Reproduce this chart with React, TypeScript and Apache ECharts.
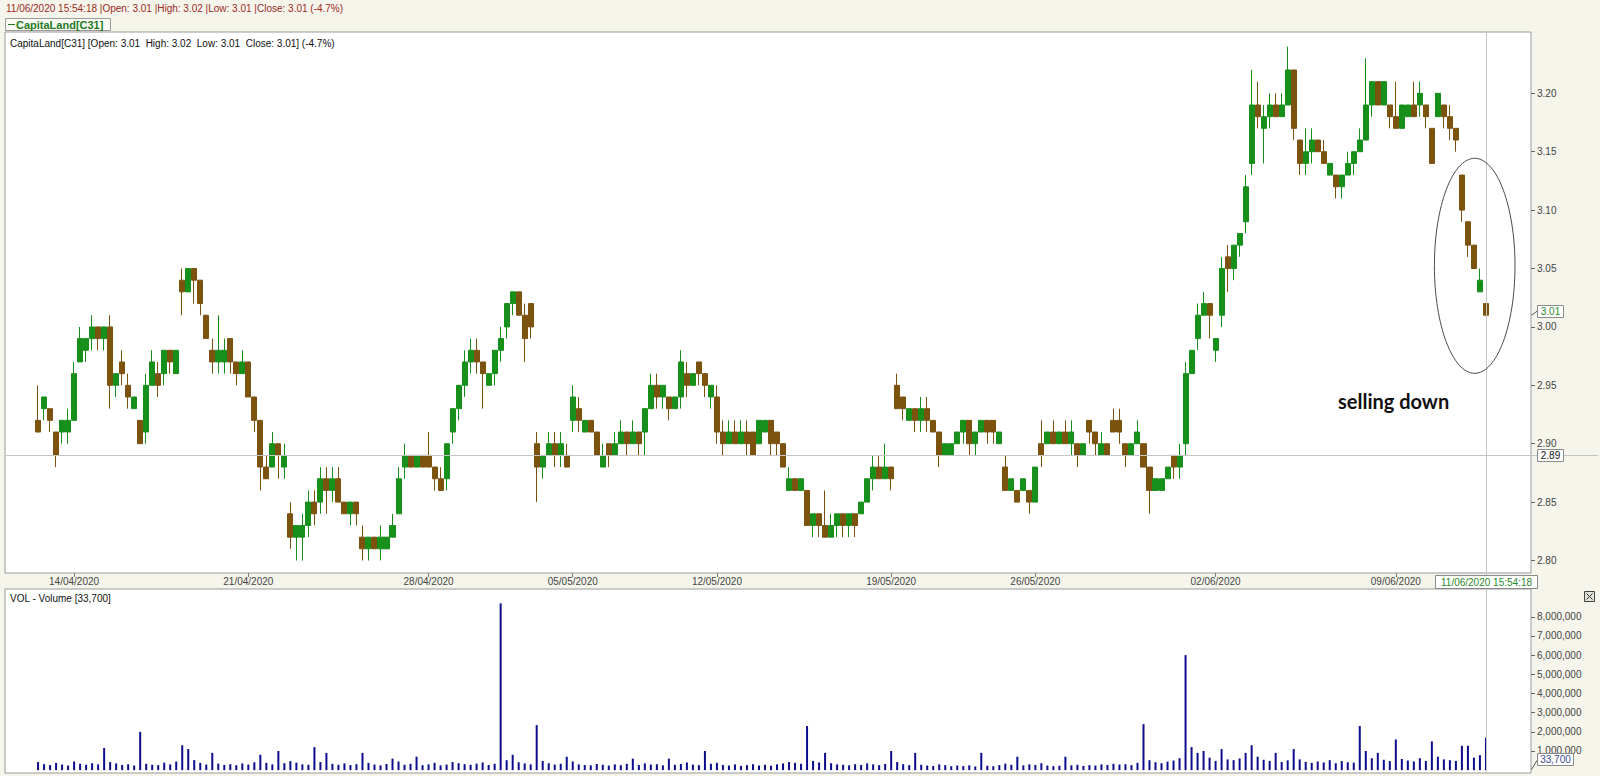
import React, { useEffect, useRef } from 'react';
import * as echarts from 'echarts';

// ---- Candles (intraday bars, left to right) ----
const openPrices = [
  2.92,2.93,2.93,2.91,2.91,2.91,2.92,2.97,2.98,2.99,
  3.00,2.99,3.00,2.95,2.97,2.95,2.93,2.92,2.91,2.95,
  2.96,2.96,2.98,2.96,3.04,3.03,3.05,3.04,3.01,2.98,
  2.97,2.97,2.99,2.97,2.96,2.97,2.94,2.92,2.88,2.88,
  2.90,2.88,2.84,2.82,2.82,2.83,2.85,2.85,2.87,2.86,
  2.87,2.85,2.84,2.85,2.82,2.81,2.82,2.81,2.81,2.82,
  2.84,2.88,2.89,2.88,2.89,2.89,2.88,2.87,2.87,2.91,
  2.93,2.95,2.97,2.98,2.97,2.95,2.96,2.98,3.00,3.02,
  3.03,3.01,3.02,2.90,2.88,2.89,2.90,2.89,2.89,2.92,
  2.93,2.91,2.92,2.91,2.88,2.90,2.89,2.90,2.91,2.90,
  2.91,2.91,2.93,2.95,2.94,2.94,2.93,2.94,2.96,2.95,
  2.97,2.96,2.94,2.94,2.91,2.90,2.91,2.90,2.91,2.91,
  2.90,2.91,2.92,2.91,2.90,2.86,2.87,2.86,2.86,2.83,
  2.84,2.83,2.82,2.83,2.84,2.83,2.84,2.84,2.85,2.87,
  2.88,2.87,2.88,2.95,2.94,2.92,2.93,2.92,2.93,2.92,
  2.91,2.89,2.89,2.90,2.91,2.92,2.90,2.91,2.92,2.92,
  2.90,2.88,2.86,2.86,2.86,2.86,2.85,2.90,2.90,2.91,
  2.90,2.91,2.90,2.90,2.89,2.92,2.91,2.89,2.90,2.92,
  2.92,2.90,2.89,2.90,2.90,2.88,2.86,2.86,2.87,2.89,
  2.88,2.90,2.96,2.99,3.01,3.02,2.98,3.01,3.06,3.05,
  3.07,3.09,3.14,3.19,3.17,3.18,3.19,3.18,3.19,3.22,
  3.16,3.14,3.15,3.16,3.15,3.13,3.13,3.12,3.13,3.14,
  3.15,3.16,3.19,3.21,3.19,3.19,3.18,3.17,3.18,3.19,
  3.19,3.19,3.17,3.18,3.19,3.18,3.17,3.13,3.09,3.07,
  3.03,3.02,
];
const closePrices = [
  2.91,2.94,2.92,2.89,2.92,2.92,2.96,2.99,2.99,3.00,
  2.99,3.00,2.95,2.96,2.96,2.94,2.94,2.90,2.95,2.97,
  2.95,2.98,2.97,2.98,3.03,3.05,3.04,3.02,2.99,2.97,
  2.98,2.98,2.97,2.96,2.97,2.94,2.92,2.88,2.87,2.90,
  2.89,2.89,2.82,2.83,2.83,2.85,2.84,2.87,2.86,2.87,
  2.85,2.84,2.85,2.84,2.81,2.82,2.81,2.82,2.82,2.83,
  2.87,2.89,2.88,2.89,2.88,2.88,2.87,2.86,2.90,2.93,
  2.95,2.97,2.98,2.97,2.96,2.96,2.98,2.99,3.02,3.03,
  3.01,2.99,3.00,2.88,2.89,2.90,2.89,2.90,2.88,2.94,
  2.92,2.92,2.91,2.89,2.89,2.89,2.90,2.91,2.90,2.91,
  2.90,2.93,2.95,2.94,2.95,2.93,2.94,2.97,2.95,2.96,
  2.96,2.95,2.95,2.91,2.90,2.91,2.90,2.91,2.90,2.89,
  2.92,2.92,2.90,2.90,2.88,2.87,2.86,2.87,2.83,2.84,
  2.83,2.82,2.83,2.84,2.83,2.84,2.83,2.85,2.87,2.88,
  2.87,2.88,2.87,2.93,2.93,2.93,2.92,2.93,2.92,2.91,
  2.89,2.90,2.90,2.91,2.92,2.90,2.91,2.92,2.91,2.91,
  2.91,2.86,2.87,2.85,2.87,2.85,2.88,2.89,2.91,2.90,
  2.91,2.90,2.91,2.89,2.90,2.91,2.90,2.90,2.89,2.91,
  2.91,2.89,2.90,2.91,2.88,2.86,2.87,2.87,2.88,2.88,
  2.89,2.96,2.98,3.01,3.02,3.01,2.99,3.05,3.05,3.07,
  3.08,3.12,3.19,3.18,3.18,3.19,3.18,3.19,3.22,3.17,
  3.14,3.15,3.16,3.15,3.14,3.14,3.12,3.13,3.14,3.15,
  3.16,3.19,3.21,3.19,3.21,3.18,3.17,3.19,3.19,3.18,
  3.20,3.18,3.14,3.20,3.18,3.17,3.16,3.10,3.07,3.05,
  3.04,3.01,
];
const lowPrices = [
  2.91,2.92,2.91,2.88,2.90,2.90,2.92,2.97,2.97,2.98,
  2.98,2.98,2.93,2.94,2.95,2.93,2.93,2.90,2.90,2.95,
  2.94,2.95,2.96,2.96,3.01,3.03,3.02,3.01,2.99,2.96,
  2.96,2.96,2.96,2.95,2.96,2.94,2.91,2.86,2.87,2.88,
  2.87,2.87,2.81,2.80,2.80,2.82,2.83,2.84,2.84,2.85,
  2.85,2.84,2.83,2.83,2.80,2.80,2.81,2.80,2.81,2.82,
  2.84,2.87,2.88,2.88,2.88,2.88,2.86,2.86,2.86,2.90,
  2.92,2.94,2.96,2.96,2.93,2.95,2.95,2.97,2.99,3.01,
  3.01,2.97,2.99,2.85,2.87,2.89,2.88,2.88,2.88,2.91,
  2.91,2.91,2.91,2.89,2.88,2.88,2.89,2.90,2.89,2.90,
  2.89,2.89,2.93,2.93,2.93,2.92,2.93,2.93,2.94,2.95,
  2.95,2.94,2.93,2.90,2.89,2.90,2.90,2.90,2.89,2.89,
  2.90,2.91,2.89,2.89,2.88,2.86,2.86,2.86,2.83,2.82,
  2.82,2.82,2.82,2.82,2.82,2.82,2.82,2.84,2.85,2.86,
  2.87,2.87,2.86,2.93,2.92,2.92,2.91,2.91,2.91,2.91,
  2.88,2.89,2.89,2.90,2.90,2.89,2.89,2.91,2.90,2.90,
  2.90,2.86,2.86,2.85,2.86,2.84,2.85,2.88,2.90,2.90,
  2.90,2.90,2.89,2.88,2.89,2.90,2.89,2.89,2.89,2.91,
  2.90,2.88,2.89,2.90,2.88,2.84,2.86,2.86,2.87,2.87,
  2.87,2.89,2.96,2.98,3.01,2.99,2.97,3.00,3.03,3.04,
  3.06,3.08,3.13,3.17,3.14,3.17,3.18,3.18,3.19,3.16,
  3.13,3.13,3.14,3.15,3.14,3.13,3.11,3.11,3.13,3.13,
  3.15,3.16,3.18,3.19,3.19,3.17,3.17,3.17,3.18,3.18,
  3.18,3.17,3.14,3.18,3.17,3.16,3.15,3.09,3.06,3.05,
  3.03,3.01,
];
const highPrices = [
  2.95,2.94,2.93,2.91,2.92,2.93,2.97,3.00,2.99,3.01,
  3.00,3.00,3.01,2.96,2.98,2.96,2.94,2.92,2.96,2.98,
  2.97,2.98,2.98,2.98,3.05,3.05,3.05,3.04,3.01,2.99,
  3.01,2.99,2.99,2.97,2.98,2.97,2.94,2.92,2.89,2.91,
  2.90,2.90,2.85,2.83,2.84,2.86,2.86,2.88,2.88,2.88,
  2.88,2.85,2.85,2.85,2.83,2.82,2.82,2.83,2.82,2.84,
  2.88,2.90,2.89,2.89,2.89,2.91,2.88,2.88,2.90,2.93,
  2.95,2.98,2.99,2.99,2.97,2.96,2.98,3.00,3.02,3.03,
  3.03,3.02,3.02,2.91,2.89,2.91,2.91,2.91,2.90,2.95,
  2.94,2.92,2.92,2.91,2.90,2.90,2.91,2.92,2.91,2.92,
  2.91,2.93,2.96,2.96,2.95,2.94,2.94,2.98,2.97,2.96,
  2.97,2.96,2.95,2.95,2.92,2.92,2.92,2.92,2.92,2.91,
  2.92,2.92,2.92,2.91,2.90,2.88,2.87,2.87,2.86,2.84,
  2.84,2.86,2.84,2.84,2.84,2.84,2.84,2.85,2.87,2.89,
  2.89,2.90,2.88,2.96,2.94,2.93,2.93,2.94,2.94,2.92,
  2.91,2.90,2.90,2.91,2.92,2.92,2.91,2.92,2.92,2.92,
  2.91,2.89,2.87,2.86,2.87,2.86,2.88,2.92,2.91,2.92,
  2.91,2.92,2.92,2.90,2.90,2.92,2.91,2.91,2.90,2.93,
  2.93,2.90,2.90,2.92,2.90,2.88,2.87,2.87,2.88,2.89,
  2.90,2.97,2.98,3.02,3.03,3.02,2.99,3.06,3.07,3.07,
  3.08,3.13,3.22,3.21,3.19,3.20,3.20,3.20,3.24,3.22,
  3.16,3.17,3.17,3.16,3.16,3.14,3.13,3.13,3.15,3.15,
  3.17,3.23,3.21,3.21,3.21,3.19,3.21,3.19,3.19,3.21,
  3.21,3.19,3.17,3.20,3.19,3.19,3.17,3.13,3.09,3.07,
  3.05,3.02,
];
const volumes = [
  420000,310000,260000,380000,290000,240000,450000,330000,280000,360000,
  300000,1150000,420000,350000,270000,310000,240000,2000000,330000,280000,
  260000,390000,300000,450000,1300000,1100000,520000,380000,290000,900000,
  340000,270000,310000,260000,350000,290000,410000,800000,380000,300000,
  1000000,360000,470000,390000,300000,280000,1200000,420000,900000,330000,
  280000,350000,260000,310000,900000,380000,290000,250000,320000,600000,
  450000,280000,330000,700000,260000,300000,380000,250000,290000,420000,
  360000,310000,280000,340000,400000,270000,330000,8700000,520000,800000,
  410000,350000,300000,2350000,480000,360000,290000,330000,700000,450000,
  300000,270000,250000,320000,280000,240000,300000,260000,330000,600000,
  270000,350000,290000,310000,250000,600000,280000,320000,400000,290000,
  260000,1000000,330000,380000,270000,240000,300000,220000,260000,310000,
  240000,280000,230000,300000,350000,420000,380000,330000,2300000,480000,
  400000,900000,360000,300000,280000,250000,310000,270000,350000,300000,
  260000,320000,1000000,420000,310000,260000,900000,280000,240000,220000,
  300000,260000,200000,240000,210000,250000,190000,900000,230000,200000,
  260000,340000,280000,700000,250000,300000,270000,360000,240000,210000,
  230000,700000,250000,280000,220000,260000,240000,300000,270000,330000,
  290000,310000,260000,380000,2400000,520000,410000,360000,440000,500000,
  620000,6000000,1200000,900000,1000000,650000,480000,1100000,560000,520000,
  610000,900000,1300000,700000,540000,480000,900000,420000,510000,1100000,
  560000,430000,380000,450000,400000,520000,360000,470000,410000,390000,
  2300000,1000000,620000,900000,540000,470000,1600000,580000,500000,450000,
  620000,480000,1500000,700000,560000,520000,480000,1270000,1270000,650000,
  780000,1690000,
];

// ---- Axis ticks ----
const dateTickLabels = ['14/04/2020', '21/04/2020', '28/04/2020', '05/05/2020', '12/05/2020', '19/05/2020', '26/05/2020', '02/06/2020', '09/06/2020'];
const dateTickBars = [6, 35, 65, 89, 113, 142, 166, 196, 226];
const priceTicks = [2.8, 2.85, 2.9, 2.95, 3.0, 3.05, 3.1, 3.15, 3.2];
const volumeTicks = [1000000, 2000000, 3000000, 4000000, 5000000, 6000000, 7000000, 8000000];

// ---- Texts ----
const headerText = '11/06/2020 15:54:18 |Open: 3.01 |High: 3.02 |Low: 3.01 |Close: 3.01 (-4.7%)';
const legendName = 'CapitaLand[C31]';
const panelTitle = 'CapitaLand[C31] [Open: 3.01\u00a0\u00a0High: 3.02\u00a0\u00a0Low: 3.01\u00a0\u00a0Close: 3.01] (-4.7%)';
const volumeTitle = 'VOL - Volume [33,700]';
const cursorTime = '11/06/2020 15:54:18';
const cursorPrice = 2.89;
const lastPrice = 3.01;
const lastTickVolume = 33700;
const annotationText = 'selling down';

const FONT = '"Liberation Sans", Arial, Helvetica, sans-serif';
const BG = '#f6f5ec';
const UP = '#17901b';
const DOWN = '#7c520f';
const VOL = '#0c0c8c';

const LEAD = 5;
const TRAIL = 7;

export default function App() {
  const ref = useRef<HTMLDivElement>(null);

  useEffect(() => {
    document.body.style.margin = '0';
    const el = ref.current!;
    const chart = echarts.init(el, null, { renderer: 'svg' });

    const n = openPrices.length;
    const total = LEAD + n + TRAIL;
    const categories: string[] = [];
    for (let k = 0; k < total; k++) {
      const t = dateTickBars.indexOf(k - LEAD);
      categories.push(t >= 0 ? dateTickLabels[t] : 'b' + k);
    }
    const candleData = openPrices.map((o, i) => [LEAD + i, o, closePrices[i], lowPrices[i], highPrices[i]]);
    const volumeData = volumes.map((v, i) => [LEAD + i, v]);
    const isDate = (v: any) => typeof v === 'string' && v.indexOf('/') >= 0;

    const option: any = {
      animation: false,
      backgroundColor: BG,
      textStyle: { fontFamily: FONT },
      grid: [
        { left: 5, top: 32, width: 1526, height: 541, show: true, backgroundColor: '#ffffff', borderColor: '#9a9a9a', borderWidth: 1 },
        { left: 5, top: 589, width: 1526, height: 184, show: true, backgroundColor: '#ffffff', borderColor: '#9a9a9a', borderWidth: 1 },
      ],
      xAxis: [
        {
          type: 'category', gridIndex: 0, data: categories, boundaryGap: true,
          axisLine: { show: false },
          axisTick: { show: true, interval: (_i: number, v: any) => isDate(v), alignWithLabel: true, length: 4, lineStyle: { color: '#777' } },
          axisLabel: { interval: (_i: number, v: any) => isDate(v), formatter: (v: string) => (isDate(v) ? v : ''), fontSize: 10, color: '#444', margin: 3, fontFamily: FONT },
          splitLine: { show: false },
        },
        {
          type: 'category', gridIndex: 1, data: categories, boundaryGap: true,
          axisLine: { show: false }, axisTick: { show: false }, axisLabel: { show: false }, splitLine: { show: false },
        },
      ],
      yAxis: [
        {
          type: 'value', gridIndex: 0, position: 'right', min: 2.7893, max: 3.2525,
          axisLine: { show: false },
          axisTick: { show: true, customValues: priceTicks, length: 4, lineStyle: { color: '#666' } },
          axisLabel: { customValues: priceTicks, formatter: (v: number) => Number(v).toFixed(2), fontSize: 10, color: '#444', margin: 6, fontFamily: FONT },
          splitLine: { show: false },
        },
        {
          type: 'value', gridIndex: 1, position: 'right', min: -150000, max: 9450000,
          axisLine: { show: false },
          axisTick: { show: true, customValues: volumeTicks, length: 4, lineStyle: { color: '#666' } },
          axisLabel: { customValues: volumeTicks, formatter: (v: number) => Number(v).toLocaleString('en-US'), fontSize: 10, color: '#444', margin: 6, fontFamily: FONT },
          splitLine: { show: false },
        },
      ],
      series: [
        {
          type: 'candlestick', xAxisIndex: 0, yAxisIndex: 0, data: candleData,
          encode: { x: 0, y: [1, 2, 3, 4] },
          barWidth: '92%',
          itemStyle: { color: UP, color0: DOWN, borderColor: UP, borderColor0: DOWN, borderWidth: 1 },
        },
        {
          type: 'bar', xAxisIndex: 1, yAxisIndex: 1, data: volumeData,
          encode: { x: 0, y: 1 },
          barWidth: 2,
          itemStyle: { color: VOL },
        },
      ],
    };
    chart.setOption(option);

    const xLast = chart.convertToPixel({ xAxisIndex: 0 }, categories[LEAD + n - 1]) as number;
    const yCross = chart.convertToPixel({ yAxisIndex: 0 }, cursorPrice) as number;
    const yLast = chart.convertToPixel({ yAxisIndex: 0 }, lastPrice) as number;
    const yVol = chart.convertToPixel({ yAxisIndex: 1 }, lastTickVolume) as number;

    const txt = (x: number, y: number, text: string, fill: string, extra: any = {}) => ({
      type: 'text', x, y, z: 102,
      style: {
        text, fill, font: extra.font || `10px ${FONT}`,
        textAlign: extra.align || 'left', align: extra.align || 'left',
        textVerticalAlign: 'middle', verticalAlign: 'middle',
      },
    });
    const box = (x: number, y: number, w: number, h: number, text: string, fill: string) => ([
      { type: 'rect', z: 100, shape: { x: x + 0.5, y: y + 0.5, width: w, height: h }, style: { fill: '#ffffff', stroke: '#8a8a8a', lineWidth: 1 } },
      txt(x + w / 2 + 0.5, y + h / 2 + 0.5, text, fill, { align: 'center' }),
    ]);
    const line = (x1: number, y1: number, x2: number, y2: number, stroke: string, z = 99) => ({
      type: 'line', z, shape: { x1, y1, x2, y2 }, style: { stroke, lineWidth: 1 },
    });

    const xc = Math.round(xLast) + 0.5;
    const yc = Math.round(yCross) + 0.5;

    const graphic: any[] = [
      txt(6, 8.5, headerText, '#9a2a1e'),
      { type: 'rect', z: 100, shape: { x: 5.5, y: 18.5, width: 105, height: 12 }, style: { fill: '#fbfbf6', stroke: '#9a9a9a', lineWidth: 1 } },
      line(8, 24.5, 15, 24.5, '#1d7a1d', 101),
      txt(16, 24.8, legendName, '#1d7a1d', { font: `bold 11px ${FONT}` }),
      txt(10, 43, panelTitle, '#111111'),
      txt(10, 598, volumeTitle, '#111111'),
      // crosshair
      line(xc, 33, xc, 772, '#c4c4c4'),
      line(6, yc, 1598, yc, '#c4c4c4'),
      ...box(1537, Math.round(yCross) - 6, 26, 12, cursorPrice.toFixed(2), '#111111'),
      line(1531.5, yLast, 1537, yLast - 4, '#555', 101),
      ...box(1537, Math.round(yLast) - 10, 26, 12, lastPrice.toFixed(2), '#2a8a2a'),
      ...box(1435, 575, 102, 13, cursorTime, '#2a8a2a'),
      line(1531.5, yVol, 1537, yVol - 9, '#555', 101),
      ...box(1537, Math.round(yVol) - 16, 36, 12, lastTickVolume.toLocaleString('en-US'), '#3a4a8c'),
      // close button
      { type: 'rect', z: 100, shape: { x: 1584.5, y: 591.5, width: 10, height: 10 }, style: { fill: '#e2e2da', stroke: '#444', lineWidth: 1 } },
      line(1586.5, 593.5, 1592.5, 599.5, '#333', 101),
      line(1592.5, 593.5, 1586.5, 599.5, '#333', 101),
      // annotation
      { type: 'ellipse', z: 100, shape: { cx: 1474.7, cy: 265.8, rx: 40.3, ry: 107.5 }, style: { fill: 'none', stroke: '#4a4a4a', lineWidth: 1 } },
      txt(1338, 401, annotationText, '#111111', { font: `bold 20px Lato, "Open Sans", sans-serif` }),
    ];
    chart.setOption({ graphic });

    return () => chart.dispose();
  }, []);

  return <div ref={ref} style={{ width: 1600, height: 776 }} />;
}
